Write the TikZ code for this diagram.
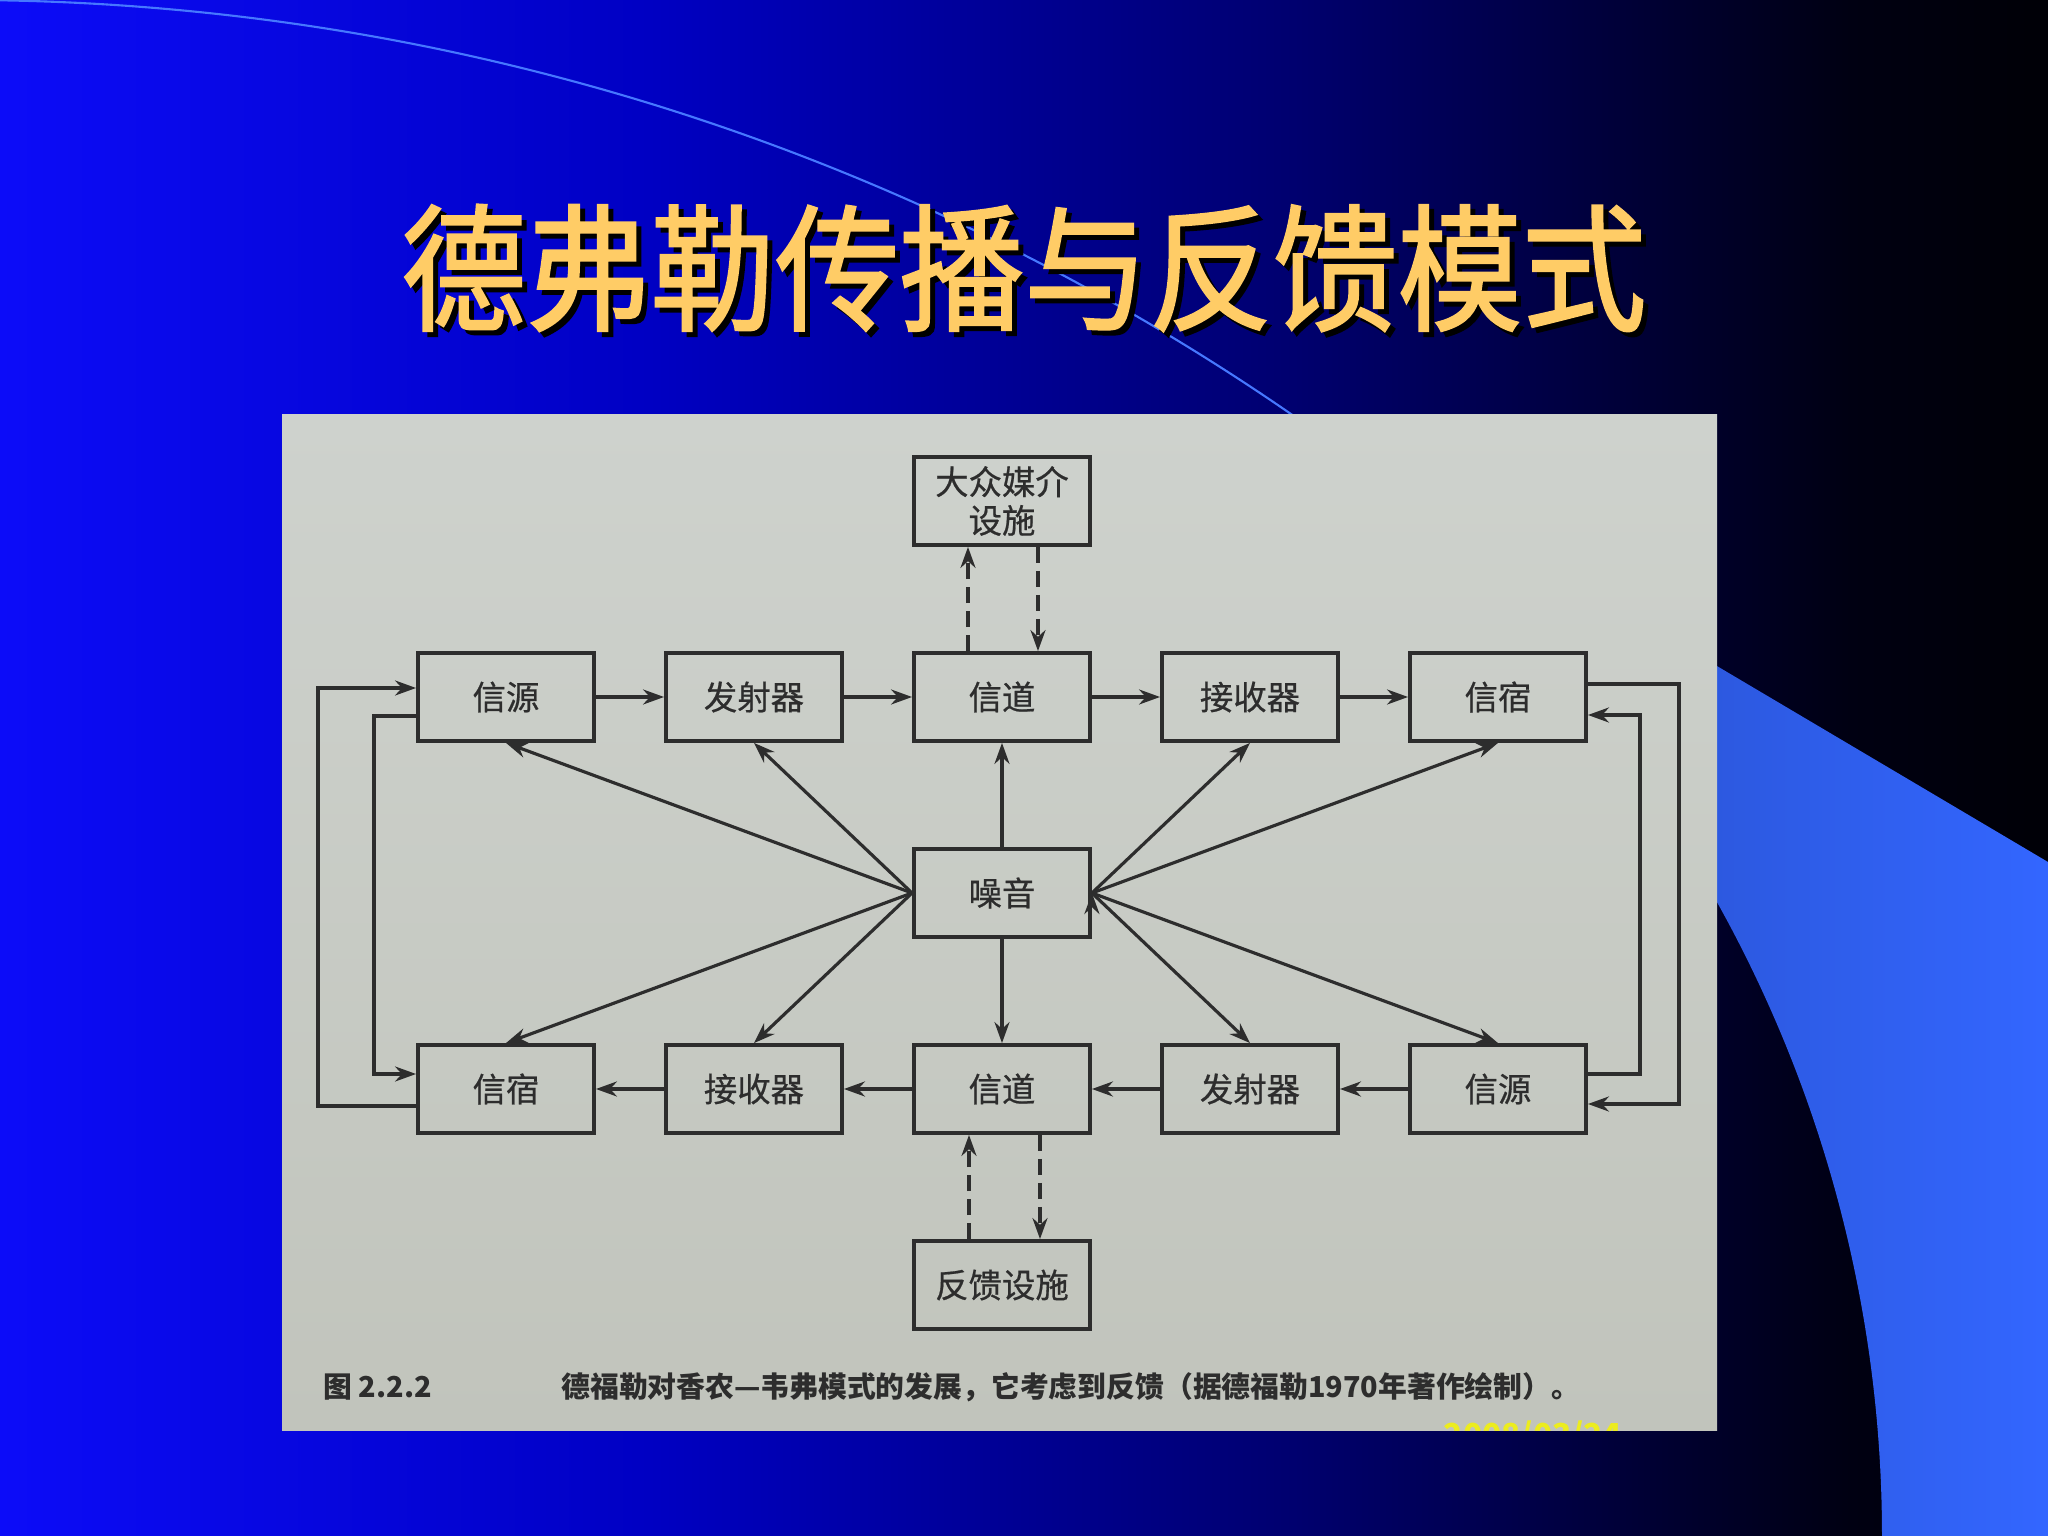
\documentclass[tikz,border=0pt]{standalone}
\usepackage{graphicx}
\usepackage{fontspec}
\setmainfont{Noto Sans CJK SC}
\newfontfamily\titlefont{Noto Sans CJK SC}[FakeBold=1.6]
\newfontfamily\printfont{Noto Sans CJK SC}[FakeBold=0.6]
\usetikzlibrary{arrows.meta,positioning}
\definecolor{ink}{RGB}{45,45,45}
\definecolor{papertop}{RGB}{206,210,205}
\definecolor{paperbot}{RGB}{193,196,188}
\definecolor{titlegold}{RGB}{255,204,102}
\definecolor{arcblue}{RGB}{70,120,255}
\definecolor{wedgeleft}{RGB}{44,88,222}
\definecolor{wedgeright}{RGB}{51,102,255}
\definecolor{stampyellow}{RGB}{236,236,30}
\definecolor{bgA}{RGB}{12,12,248}
\definecolor{bgB}{RGB}{0,0,195}
\definecolor{bgC}{RGB}{0,0,110}
\definecolor{bgD}{RGB}{0,0,18}
\definecolor{bgE}{RGB}{0,0,6}

\begin{document}
\begin{tikzpicture}[>={Stealth[length=2.1mm,width=1.5mm]},node distance=2.48cm,
  box/.style={draw=ink,line width=1.1pt,minimum width=1.76cm,minimum height=0.88cm,
    inner sep=0pt,text=ink,font=\printfont\fontsize{9.5}{11}\selectfont,align=center},
  link/.style={draw=ink,line width=0.9pt},
  dashlink/.style={link,dash pattern=on 1.6mm off 0.8mm}]
  \useasboundingbox (0,0) rectangle (20.48,-15.36);

  % slide background
  \shade[left color=bgA,right color=bgB] (0,0) rectangle (6.5,-15.36);
  \shade[left color=bgB,right color=bgC] (6.49,0) rectangle (13,-15.36);
  \shade[left color=bgC,right color=bgD] (12.99,0) rectangle (18.5,-15.36);
  \shade[left color=bgD,right color=bgE] (18.49,0) rectangle (20.48,-15.36);
  \draw[arcblue,line width=0.6pt] (-0.38,-23.40) ++(91:23.40) arc[start angle=91,end angle=50,radius=23.40];
  \shade[left color=wedgeleft,right color=wedgeright] (17.0,-6.56) -- (20.48,-8.62) -- (20.48,-15.36)
    -- (18.82,-15.36) arc[start angle=0,end angle=31,radius=13] -- cycle;

  % title
  \node[text=black] (titleshadow) at (10.29,-2.73) {\resizebox*{12.45cm}{1.27cm}{\titlefont 德弗勒传播与反馈模式}};
  \node[text=titlegold] (title) at (10.24,-2.68) {\resizebox*{12.45cm}{1.27cm}{\titlefont 德弗勒传播与反馈模式}};

  % photo of the printed figure
  \shade[top color=papertop,bottom color=paperbot] (2.82,-4.15) rectangle (17.17,-14.30);

  \node[box] (noise) at (10.02,-8.93) {噪音};
  \node[box,node distance=1.96cm,above of=noise] (ch1) {信道};
  \node[box,node distance=1.96cm,above of=ch1] (media) {大众媒介\\设施};
  \node[box,node distance=1.96cm,below of=noise] (ch2) {信道};
  \node[box,node distance=1.96cm,below of=ch2] (fb) {反馈设施};
  \node[box,left of=ch1] (tx1) {发射器};
  \node[box,left of=tx1] (src1) {信源};
  \node[box,right of=ch1] (rx1) {接收器};
  \node[box,right of=rx1] (dst1) {信宿};
  \node[box,left of=ch2] (rx2) {接收器};
  \node[box,left of=rx2] (dst2) {信宿};
  \node[box,right of=ch2] (tx2) {发射器};
  \node[box,right of=tx2] (src2) {信源};

  \path[->,link] (src1) edge (tx1)
        (tx1) edge (ch1)
        (ch1) edge (rx1)
        (rx1) edge (dst1)
        (src2) edge (tx2)
        (tx2) edge (ch2)
        (ch2) edge (rx2)
        (rx2) edge (dst2);

  \path[->,link] (noise) edge (ch1)
           edge (ch2)
        (noise.west) edge (src1.south)
           edge (tx1.south)
           edge (dst2.north)
           edge (rx2.north)
        (noise.east) edge (rx1.south)
           edge (dst1.south)
           edge (tx2.north)
           edge (src2.north);

  \draw[->,dashlink] ([xshift=-0.34cm]ch1.north) -- ([xshift=-0.34cm]media.south);
  \draw[->,dashlink] ([xshift=0.36cm]media.south) -- ([xshift=0.36cm]ch1.north);
  \draw[->,dashlink] ([xshift=-0.33cm]fb.north) -- ([xshift=-0.33cm]ch2.south);
  \draw[->,dashlink] ([xshift=0.38cm]ch2.south) -- ([xshift=0.38cm]fb.north);

  % feedback loops
  \draw[->,link] ([yshift=-0.17cm]dst2.west) -- ++(-0.98,0) |- ([yshift=0.09cm]src1.west);
  \draw[->,link] ([yshift=-0.19cm]src1.west) -- ++(-0.42,0) |- ([yshift=0.15cm]dst2.west);
  \draw[->,link] ([yshift=0.13cm]dst1.east) -- ++(0.91,0) |- ([yshift=-0.15cm]src2.east);
  \draw[->,link] ([yshift=0.15cm]src2.east) -- ++(0.52,0) |- ([yshift=-0.18cm]dst1.east);

  \node[anchor=west,text=ink,font=\fontsize{8.2}{10}\selectfont\bfseries] (fignum) at (3.11,-13.87) {图 2.2.2};
  \node[anchor=west,text=ink,font=\fontsize{8.2}{10}\selectfont\bfseries] (caption) at (5.49,-13.87)
    {德福勒对香农—韦弗模式的发展，它考虑到反馈（据德福勒1970年著作绘制）。};

  \begin{scope}
    \clip (2.82,-4.15) rectangle (17.17,-14.30);
    \node[text=stampyellow,font=\bfseries\fontsize{9}{10}\selectfont] (stamp) at (15.33,-14.37) {2008/03/24};
  \end{scope}
\end{tikzpicture}
\end{document}
